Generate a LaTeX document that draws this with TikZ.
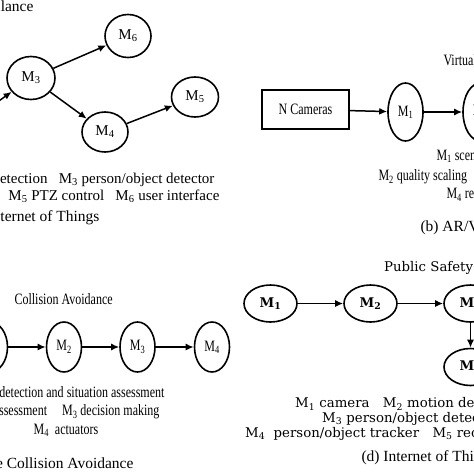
\documentclass[tikz,border=0pt]{standalone}
\usepackage{fontspec}
\usepackage{graphicx}
\setmainfont{Liberation Serif}
\newfontfamily\dfont{DejaVu Serif}
\usetikzlibrary{arrows.meta,shapes.geometric}
\newcommand{\Ms}[1]{M\textsubscript{#1}}
\newcommand{\cz}[1]{\scalebox{0.76}[1]{#1}}
\begin{document}
\begin{tikzpicture}[x=1pt,y=-1pt,
  mnode/.style={draw, ellipse, line width=1.6pt, inner sep=0pt},
  arr/.style={-{Latex[length=8pt,width=7pt]}, line width=1.5pt},
  afont/.style={font=\fontsize{15}{17}\selectfont},
  bfont/.style={font=\fontsize{15.8}{17}\selectfont},
  dtext/.style={font=\dfont\fontsize{13.3}{14}\selectfont, inner sep=0pt},
  capfont/.style={font=\fontsize{15.5}{17}\selectfont}]
\useasboundingbox (0,0) rectangle (474,474);
\clip (0,0) rectangle (474,474);
% ---------- (a) ----------
\node[capfont, anchor=east] (atitle) at (37,6) {Video Surveillance};
\node[mnode, afont, minimum width=48, minimum height=43] (a3) at (31,78) {\Ms{3}};
\node[mnode, afont, minimum width=46, minimum height=43] (a6) at (128,36) {\Ms{6}};
\node[mnode, afont, minimum width=47, minimum height=40] (a5) at (195,97) {\Ms{5}};
\node[mnode, afont, minimum width=46, minimum height=40] (a4) at (105,132) {\Ms{4}};
\coordinate (a2) at (-25,118);
\draw[arr] (a2) -- (a3);
\draw[arr] (a3) -- (a6);
\draw[arr] (a3) -- (a4);
\draw[arr] (a4) -- (a5);
\node[afont, anchor=east] (atxt1) at (218,180) {\Ms{1} camera\quad \Ms{2} motion detection\ \ \ \Ms{3} person/object detector};
\node[afont, anchor=east] (atxt2) at (223,197) {\Ms{4} person/object tracker\quad\ \Ms{5} PTZ control\ \ \ \Ms{6} user interface};
\node[capfont, anchor=east] (acap) at (103,218) {(a) Internet of Things};
% ---------- (b) ----------
\node[draw, line width=1.5pt, bfont, minimum width=87, minimum height=39] (cam) at (305.5,109.5) {\cz{N Cameras}};
\node[mnode, bfont, minimum width=35, minimum height=58] (b1) at (405.5,112) {\cz{\Ms{1}}};
\node[mnode, bfont, minimum width=35, minimum height=58] (b2) at (480.5,112) {\cz{\Ms{2}}};
\draw[arr] (cam) -- (b1);
\draw[arr] (b1) -- (b2);
\node[bfont, anchor=west] (btitle) at (440,62) {\cz{Virtual Reality}};
\node[bfont, anchor=west] (btxt1) at (433,157) {\cz{\Ms{1} scene composition}};
\node[bfont, anchor=west] (btxt2) at (375,177) {\cz{\Ms{2} quality scaling}};
\node[bfont, anchor=west] (btxt3) at (443,195) {\cz{\Ms{4}\ rendering}};
\node[capfont, anchor=west] (bcap) at (417,228) {(b) AR/VR};
% ---------- (c) ----------
\node[bfont, anchor=west] (ctitle) at (11,299) {\cz{Collision Avoidance}};
\node[mnode, bfont, minimum width=35, minimum height=50] (c1) at (-10,347) {\cz{\Ms{1}}};
\node[mnode, bfont, minimum width=35, minimum height=50] (c2) at (64,347) {\cz{\Ms{2}}};
\node[mnode, bfont, minimum width=35, minimum height=50] (c3) at (137.5,347) {\cz{\Ms{3}}};
\node[mnode, bfont, minimum width=35, minimum height=50] (c4) at (212,347) {\cz{\Ms{4}}};
\draw[arr] (c1) -- (c2);
\draw[arr] (c2) -- (c3);
\draw[arr] (c3) -- (c4);
\node[bfont, anchor=east] (ctxt1) at (168,393) {\cz{\Ms{1} sensor detection and situation assessment}};
\node[bfont, anchor=east] (ctxt2) at (163,412) {\cz{\Ms{2} risk assessment\quad\ \Ms{3} decision making}};
\node[bfont] (ctxt3) at (66,430) {\cz{\Ms{4}\ \ actuators}};
\node[capfont, anchor=east] (ccap) at (137,465) {(c) Vehicle Collision Avoidance};
% ---------- (d) ----------
\node[dtext, anchor=west] (dtitle) at (384,268) {Public Safety};
\node[mnode, dtext, minimum width=53, minimum height=37] (d1) at (270.5,303.5) {\textbf{\Ms{1}}};
\node[mnode, dtext, minimum width=53, minimum height=37] (d2) at (370.5,303.5) {\textbf{\Ms{2}}};
\node[mnode, dtext, minimum width=53, minimum height=37] (d3) at (470.5,303.5) {\textbf{\Ms{3}}};
\node[mnode, dtext, minimum width=53, minimum height=37] (d4) at (470.5,367) {\textbf{\Ms{4}}};
\draw[arr] (d1) -- (d2);
\draw[arr] (d2) -- (d3);
\draw[arr] (d3) -- (d4);
\node[dtext, anchor=west] (dtxt1) at (295,404) {\Ms{1} camera\quad \Ms{2} motion detection};
\node[dtext, anchor=west] (dtxt2) at (322,419) {\Ms{3} person/object detector};
\node[dtext, anchor=west] (dtxt3) at (245,434) {\Ms{4}\ \ person/object tracker\quad \Ms{5} recorder};
\node[capfont, anchor=west] (dcap) at (358,458) {(d) Internet of Things};
\end{tikzpicture}
\end{document}
